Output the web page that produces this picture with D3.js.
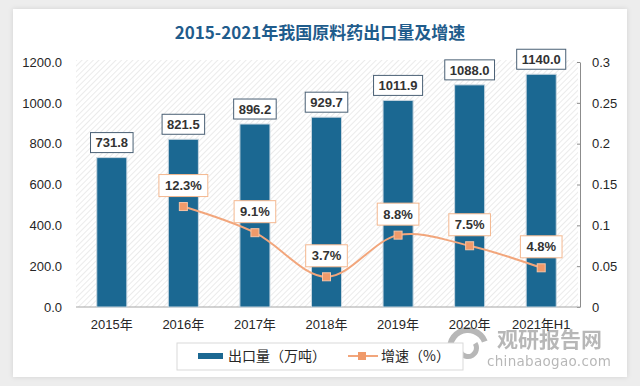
<!DOCTYPE html>
<html>
<head>
<meta charset="utf-8">
<script src="https://cdn.jsdelivr.net/npm/d3@7.9.0/dist/d3.min.js"></script>
<style>
  html, body { margin: 0; padding: 0; background: #ededed; }
  svg { display: block; }
  text { font-family: "Liberation Sans", "Noto Sans CJK SC", sans-serif; }
</style>
</head>
<body>
<svg id="chart" width="640" height="386"></svg>
<script>
// data
const years = ['2015年', '2016年', '2017年', '2018年', '2019年', '2020年', '2021年H1'];
const exportVolume = [731.8, 821.5, 896.2, 929.7, 1011.9, 1088.0, 1140.0]; // 万吨
const growth = [null, 0.123, 0.091, 0.037, 0.088, 0.075, 0.048];
const leftTicks = [0, 200, 400, 600, 800, 1000, 1200];
const rightTicks = [0, 0.05, 0.1, 0.15, 0.2, 0.25, 0.3];

const svg = d3.select('#chart');
const barColor = '#1b6892';
const lineColor = '#f2a67c';

// card background + hatch pattern
svg.append('defs').html(`
  <filter id="shadow" x="-5%" y="-5%" width="110%" height="110%">
    <feDropShadow dx="0" dy="0" stdDeviation="2.5" flood-color="#000" flood-opacity="0.12"/>
  </filter>
  <pattern id="hatch" width="4" height="4" patternUnits="userSpaceOnUse" patternTransform="rotate(45)">
    <rect width="4" height="4" fill="#fff"/>
    <line x1="0" y1="0" x2="0" y2="4" stroke="#dedede" stroke-width="1.2"/>
  </pattern>`);
svg.append('rect')
  .attr('x', 13).attr('y', 9).attr('width', 614).attr('height', 368)
  .attr('fill', '#fff').attr('filter', 'url(#shadow)');

// title
svg.append('text')
  .attr('x', 320).attr('y', 39)
  .attr('text-anchor', 'middle')
  .style('font-family', '"Noto Sans CJK SC", sans-serif')
  .style('font-weight', 'bold')
  .style('font-size', '17px')
  .attr('fill', '#1f5c8c')
  .text('2015-2021年我国原料药出口量及增速');

// scales
const x = d3.scaleBand().domain(years).range([76, 577]).paddingInner(0.58).paddingOuter(0.29);
const y = d3.scaleLinear().domain([0, 1200]).range([307, 62]);
const y2 = d3.scaleLinear().domain([0, 0.3]).range([307, 62]);

// hatched plot area
svg.append('rect')
  .attr('x', 76).attr('y', y(1200) - 2)
  .attr('width', 502).attr('height', y(0) - y(1200) + 2)
  .attr('fill', 'url(#hatch)');

// left axis (labels only)
const gLeft = svg.append('g')
  .attr('transform', 'translate(76,0)')
  .call(d3.axisLeft(y).tickValues(leftTicks).tickFormat(d3.format('.1f')).tickSize(0).tickPadding(14));
gLeft.select('.domain').remove();

// right axis
const gRight = svg.append('g')
  .attr('transform', 'translate(580,0)')
  .call(d3.axisRight(y2).tickValues(rightTicks).tickFormat(d => String(+d.toFixed(2)))
    .tickSize(-3).tickSizeOuter(0).tickPadding(12));
gRight.select('.domain').attr('stroke', '#8c8c8c');
gRight.selectAll('.tick line').attr('stroke', '#8c8c8c');

svg.selectAll('.tick text')
  .style('font-size', '13px')
  .attr('fill', '#262626');

// baseline
svg.append('line')
  .attr('x1', 76).attr('x2', 580)
  .attr('y1', y(0)).attr('y2', y(0))
  .attr('stroke', '#a6a6a6');

// watermark (drawn under the axis labels)
const wm = svg.append('g').attr('fill', '#9a9a9a').attr('opacity', 0.7);
wm.append('path')
  .attr('d', d3.arc()({ innerRadius: 15, outerRadius: 21, startAngle: -2.2, endAngle: 1.2 }))
  .attr('transform', 'translate(468,348)');
wm.append('path')
  .attr('d', d3.arc()({ innerRadius: 6, outerRadius: 11, startAngle: 1.0, endAngle: 4.2 }))
  .attr('transform', 'translate(468,348)');
wm.append('text')
  .attr('x', 497).attr('y', 347)
  .style('font-family', '"Noto Sans CJK SC", sans-serif')
  .style('font-weight', 'bold')
  .style('font-size', '21px')
  .text('观研报告网');
wm.append('text')
  .attr('x', 487).attr('y', 366)
  .style('font-family', '"DejaVu Sans", sans-serif')
  .style('font-size', '13.5px')
  .style('letter-spacing', '0.3px')
  .text('chinabaogao.com');

// x labels
svg.append('g').selectAll('text')
  .data(years)
  .join('text')
  .attr('x', d => x(d) + x.bandwidth() / 2)
  .attr('y', 329)
  .attr('text-anchor', 'middle')
  .style('font-size', '13px')
  .attr('fill', '#262626')
  .text(d => d);

// bars
svg.append('g').selectAll('rect')
  .data(exportVolume)
  .join('rect')
  .attr('x', (d, i) => x(years[i]))
  .attr('y', d => y(d))
  .attr('width', x.bandwidth())
  .attr('height', d => y(0) - y(d))
  .attr('fill', barColor)
  .attr('stroke', '#c9d7e1')
  .attr('stroke-width', 1);

// bar value labels
const valueLabels = svg.append('g').selectAll('g')
  .data(exportVolume)
  .join('g')
  .attr('transform', (d, i) => `translate(${x(years[i]) + x.bandwidth() / 2},${y(d) - 15})`);
valueLabels.each(function (d) {
  const g = d3.select(this);
  const t = g.append('text')
    .attr('text-anchor', 'middle')
    .attr('dy', '0.36em')
    .style('font-size', '13px')
    .style('font-weight', 'bold')
    .attr('fill', '#333')
    .text(d.toFixed(1));
  const w = t.node().getComputedTextLength() + 10;
  g.insert('rect', 'text')
    .attr('x', -w / 2).attr('y', -10)
    .attr('width', w).attr('height', 20)
    .attr('fill', '#fff')
    .attr('stroke', '#4a6075');
});

// growth line
const pts = growth.map((g, i) => ({ year: years[i], g })).filter(d => d.g !== null);
const line = d3.line()
  .x(d => x(d.year) + x.bandwidth() / 2)
  .y(d => y2(d.g))
  .curve(d3.curveCatmullRom.alpha(0.5));
svg.append('path')
  .datum(pts)
  .attr('d', line)
  .attr('fill', 'none')
  .attr('stroke', lineColor)
  .attr('stroke-width', 2);

svg.append('g').selectAll('rect')
  .data(pts)
  .join('rect')
  .attr('x', d => x(d.year) + x.bandwidth() / 2 - 4)
  .attr('y', d => y2(d.g) - 4)
  .attr('width', 8).attr('height', 8)
  .attr('fill', '#f09a6a')
  .attr('stroke', '#f7c4a6');

// growth labels
const growthLabels = svg.append('g').selectAll('g')
  .data(pts)
  .join('g')
  .attr('transform', d => `translate(${x(d.year) + x.bandwidth() / 2},${y2(d.g) - 21})`);
growthLabels.each(function (d) {
  const g = d3.select(this);
  const t = g.append('text')
    .attr('text-anchor', 'middle')
    .attr('dy', '0.36em')
    .style('font-size', '13px')
    .style('font-weight', 'bold')
    .attr('fill', '#333')
    .text((d.g * 100).toFixed(1) + '%');
  const w = t.node().getComputedTextLength() + 12;
  g.insert('rect', 'text')
    .attr('x', -w / 2).attr('y', -11)
    .attr('width', w).attr('height', 22)
    .attr('fill', '#fff')
    .attr('stroke', '#f4b890');
});

// legend
const legend = svg.append('g');
legend.append('rect')
  .attr('x', 177).attr('y', 343).attr('width', 286).attr('height', 27)
  .attr('fill', '#fff').attr('stroke', '#d9d9d9');
legend.append('rect')
  .attr('x', 198).attr('y', 353).attr('width', 25).attr('height', 6)
  .attr('fill', barColor);
legend.append('text')
  .attr('x', 228).attr('y', 356).attr('dy', '0.36em')
  .style('font-family', '"Noto Sans CJK SC", sans-serif')
  .style('font-size', '14px')
  .attr('fill', '#262626')
  .text('出口量（万吨）');
legend.append('line')
  .attr('x1', 348).attr('x2', 378).attr('y1', 356).attr('y2', 356)
  .attr('stroke', lineColor).attr('stroke-width', 2);
legend.append('rect')
  .attr('x', 358).attr('y', 352).attr('width', 8).attr('height', 8)
  .attr('fill', '#f09a6a');
legend.append('text')
  .attr('x', 381).attr('y', 356).attr('dy', '0.36em')
  .style('font-family', '"Noto Sans CJK SC", sans-serif')
  .style('font-size', '14px')
  .attr('fill', '#262626')
  .text('增速（%）');
</script>
</body>
</html>
